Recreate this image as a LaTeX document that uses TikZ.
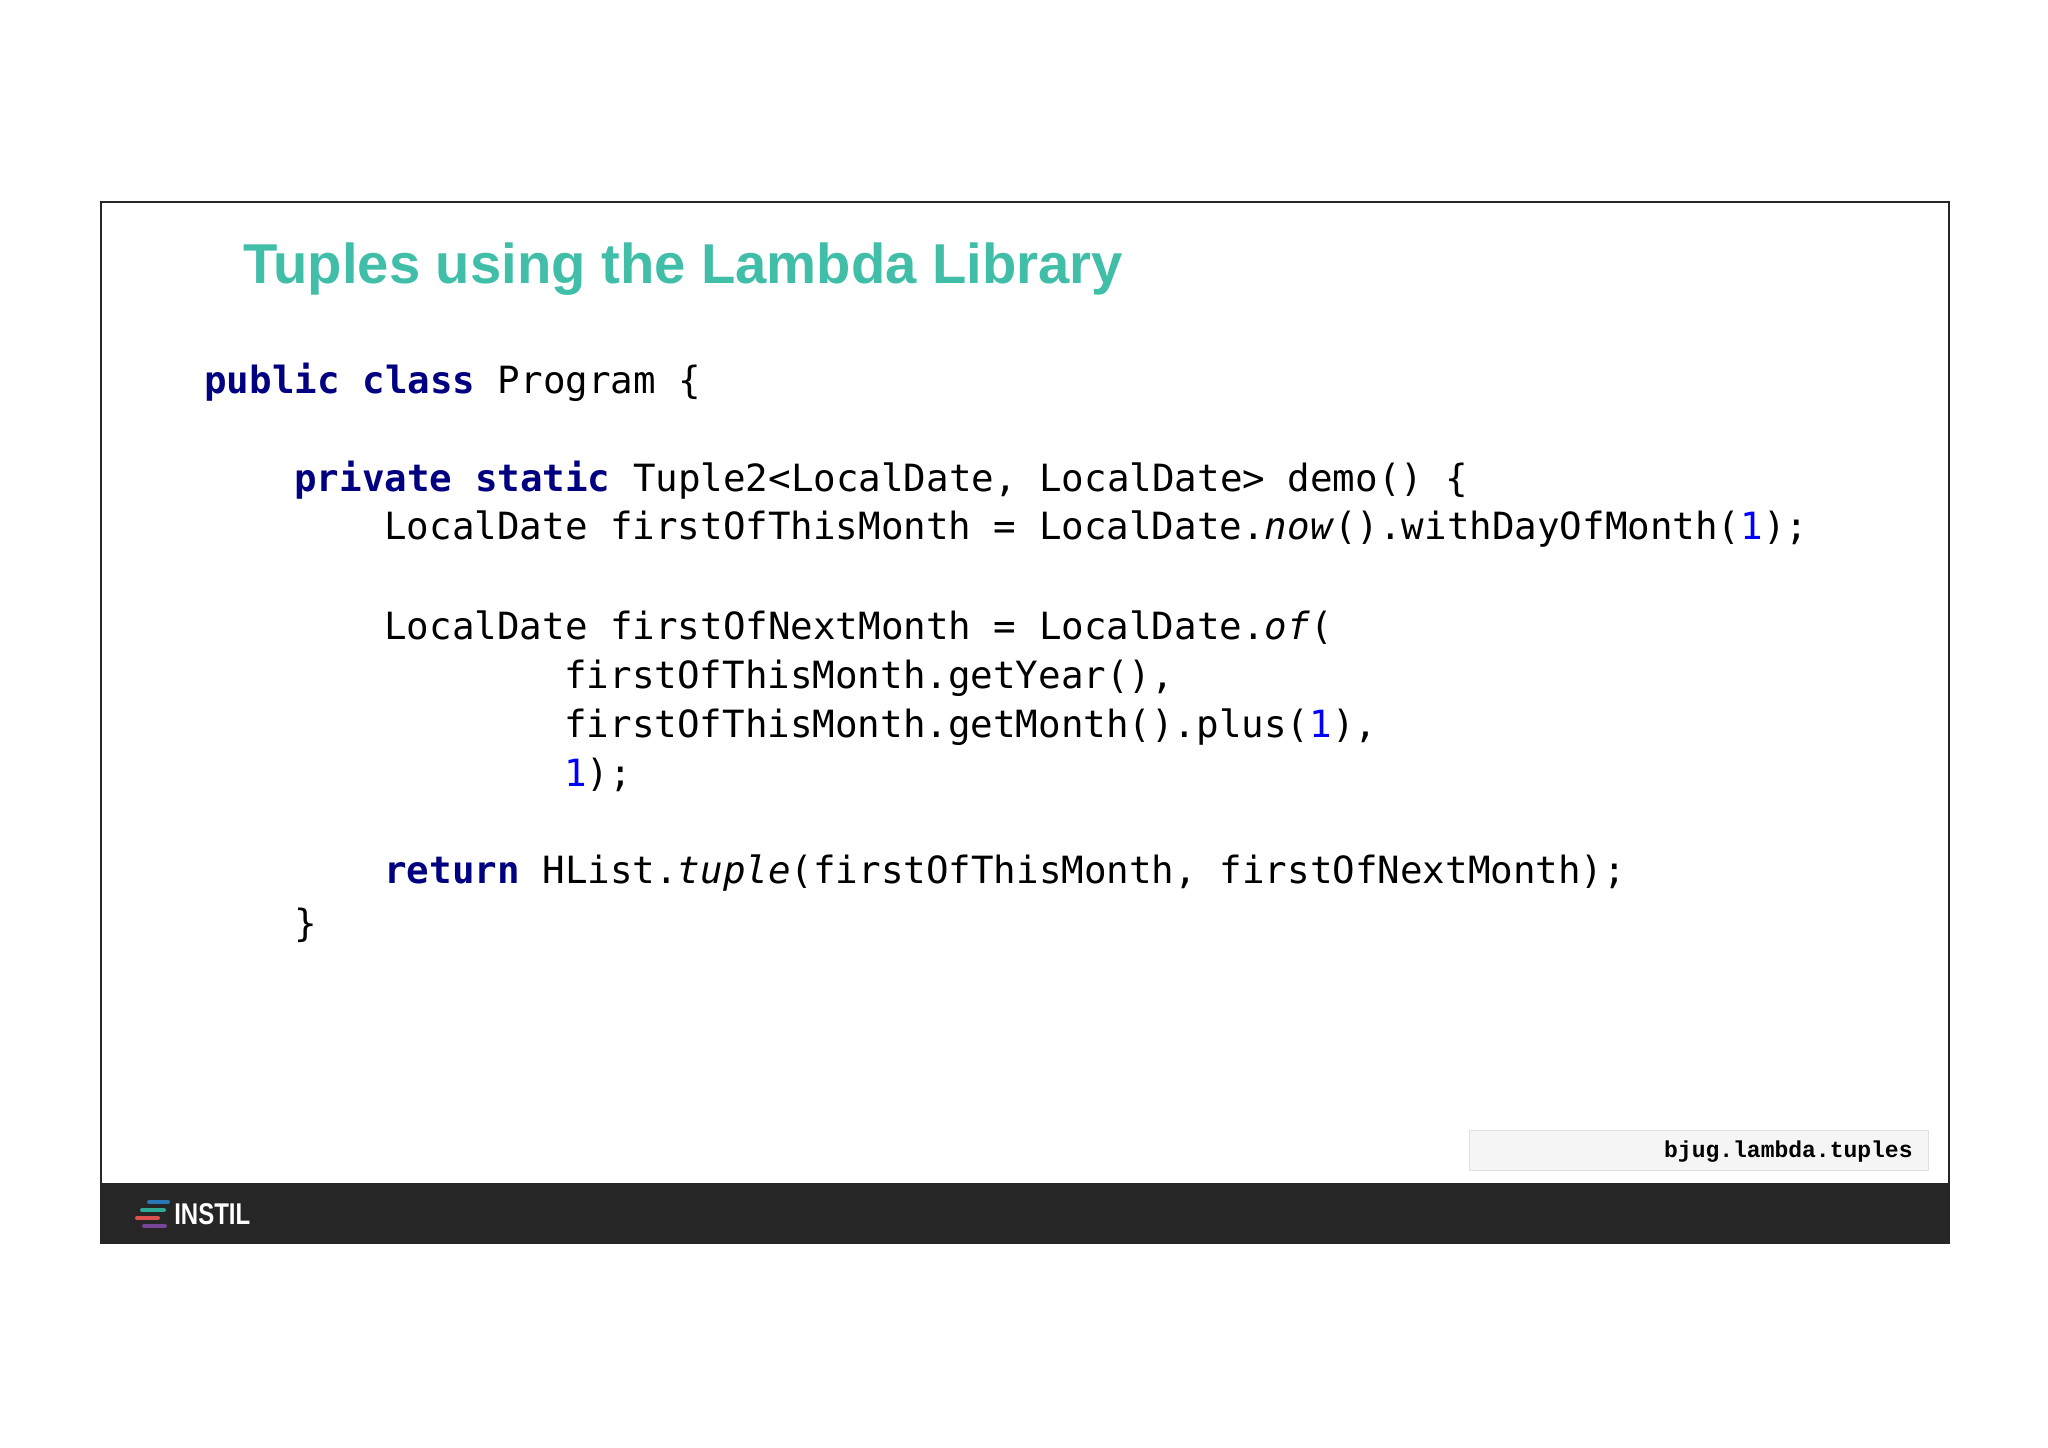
\documentclass[tikz,border=0pt]{standalone}
\usepackage{fontspec}
\setmainfont{Liberation Sans}
\setmonofont{DejaVu Sans Mono}
\newfontfamily\labfont{Liberation Mono}
\definecolor{teal}{RGB}{64,190,168}
\definecolor{kw}{RGB}{0,0,128}
\definecolor{num}{RGB}{0,0,255}
\definecolor{bar}{RGB}{38,38,38}
\definecolor{lgA}{RGB}{39,120,180}
\definecolor{lgB}{RGB}{45,170,150}
\definecolor{lgC}{RGB}{220,80,80}
\definecolor{lgD}{RGB}{120,70,150}
\newcommand{\kw}[1]{\textcolor{kw}{\bfseries #1}}
\newcommand{\nm}[1]{\textcolor{num}{#1}}
\begin{document}
\begin{tikzpicture}[x=0.5pt,y=-0.5pt,
  code/.style={anchor=base west,inner sep=0,font=\ttfamily\fontsize{18.75}{20}\selectfont}]
\useasboundingbox (0,0) rectangle (2048,1447);
\fill[white] (0,0) rectangle (2048,1447);
\fill[bar] (101,1183) rectangle (1949,1243);
\draw[line width=1.2pt,black!85] (101,202) rectangle (1949,1243);
\node[anchor=west,inner sep=0,text=teal,font=\bfseries\fontsize{28.1}{30}\selectfont] (title) at (243,269) {Tuples using the Lambda Library};
\node[code] (l1) at (204,393) {\kw{public class} Program \{};
\node[code] (l2) at (294,491) {\kw{private static} Tuple2<LocalDate, LocalDate> demo() \{};
\node[code] (l3) at (384,539) {LocalDate firstOfThisMonth = LocalDate.\textit{now}().withDayOfMonth(\nm{1});};
\node[code] (l4) at (384,639) {LocalDate firstOfNextMonth = LocalDate.\textit{of}(};
\node[code] (l5) at (564,688) {firstOfThisMonth.getYear(),};
\node[code] (l6) at (564,737) {firstOfThisMonth.getMonth().plus(\nm{1}),};
\node[code] (l7) at (564,786) {\nm{1});};
\node[code] (l8) at (384,883) {\kw{return} HList.\textit{tuple}(firstOfThisMonth, firstOfNextMonth);};
\node[code] (l9) at (294,936) {\}};
\draw[fill=black!4,draw=black!12] (1469,1130) rectangle (1928,1170);
\node[anchor=east,inner sep=0,font=\labfont\bfseries\fontsize{11.5}{12}\selectfont] (lab) at (1913,1152) {bjug.lambda.tuples};
\foreach \c/\xa/\xb/\yy in {lgA/149/168/1202, lgB/142/164/1210, lgC/137/158/1218, lgD/144/165/1226}
  \draw[line width=2pt,line cap=round,draw=\c] (\xa,\yy) -- (\xb,\yy);
\node[anchor=west,inner sep=0,text=white,font=\bfseries\fontsize{15}{16}\selectfont,xscale=0.8] (logo) at (174,1214) {INSTIL};
\end{tikzpicture}
\end{document}
